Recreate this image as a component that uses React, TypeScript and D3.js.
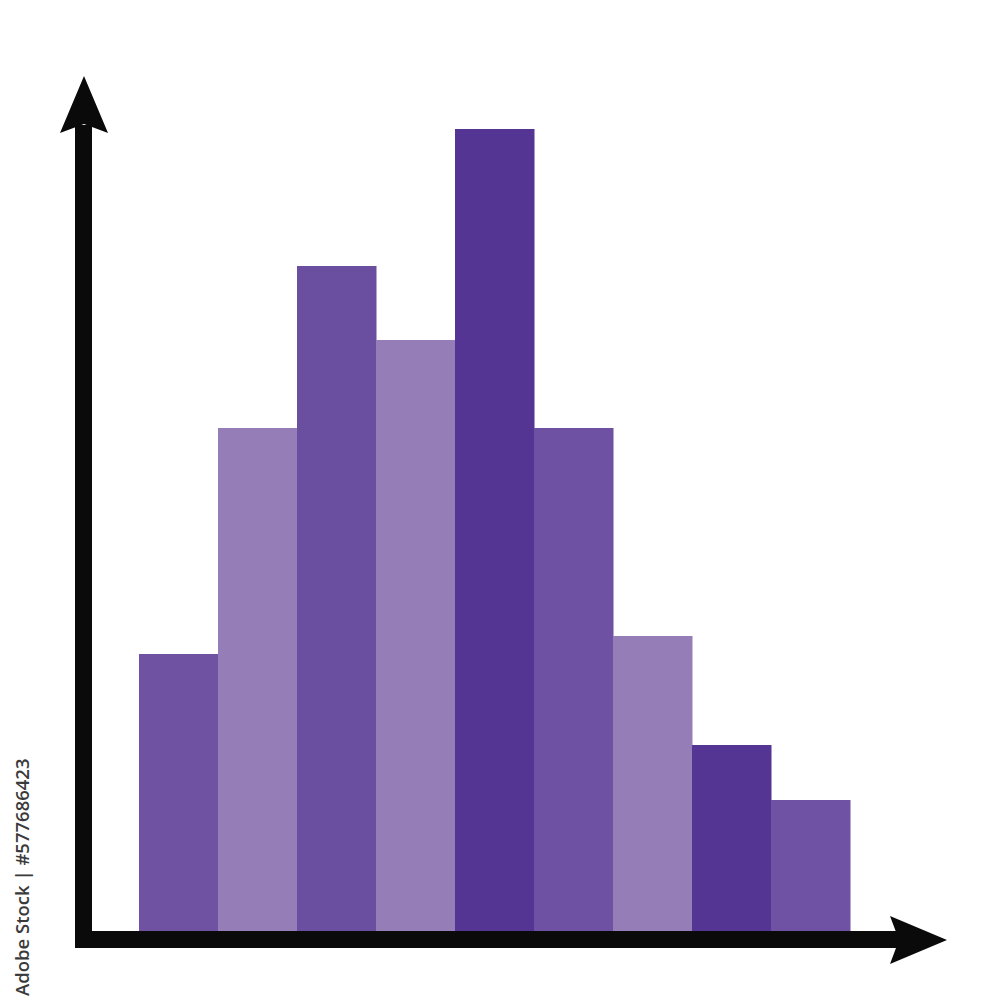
import React from "react";
import * as d3 from "d3";

const categories = ["1", "2", "3", "4", "5", "6", "7", "8", "9"];
const values = [13.85, 25.15, 33.25, 29.55, 40.1, 25.15, 14.75, 9.3, 6.55];
const barColors = ["#7052a3", "#957eb8", "#6a4ea0", "#957eb8", "#553594", "#6f51a3", "#957eb8", "#553594", "#6f52a4"];
const creditText = "Adobe Stock | #577686423";

export default function App() {
  const W = 1000, H = 1000;
  const x = d3.scaleBand<string>().domain(categories).range([139, 850]).padding(0);
  const y = d3.scaleLinear().domain([0, 40]).range([931, 131]);

  const axisColor = "#0a0a0a";
  const yArrow = "M84,76 L108,133 L84,124 L60,133 Z";
  const xArrow = "M947,940 L890,964 L899,940 L890,916 Z";

  return (
    <svg width={W} height={H} style={{ position: "absolute", left: 0, top: 0, background: "#fff" }}>
      <rect x={0} y={0} width={W} height={H} fill="#fff" />
      {categories.map((c, i) => (
        <rect
          key={c}
          x={x(c)!}
          y={y(values[i])}
          width={x.bandwidth() + 0.5}
          height={y(0) - y(values[i])}
          fill={barColors[i]}
        />
      ))}
      <rect x={75} y={125} width={17} height={823} fill={axisColor} />
      <rect x={75} y={931} width={825} height={17} fill={axisColor} />
      <path d={yArrow} fill={axisColor} />
      <path d={xArrow} fill={axisColor} />
      <text
        transform="translate(29,996) rotate(-90)"
        fontFamily="'Open Sans', 'Noto Sans', sans-serif"
        fontSize={18.5}
        fontWeight={600}
        fill="#3a3a3a"
        textAnchor="start"
      >
        {creditText}
      </text>
    </svg>
  );
}
